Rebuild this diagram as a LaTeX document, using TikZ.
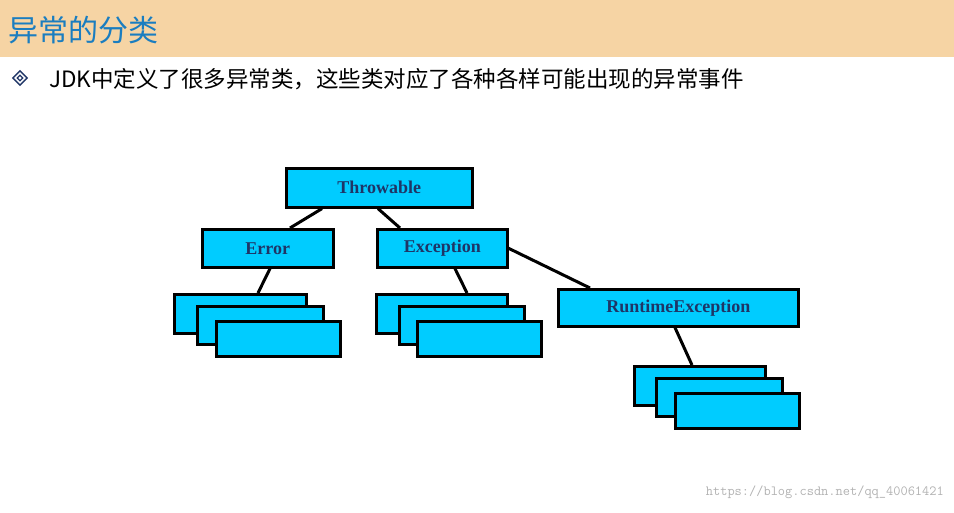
\documentclass[tikz,border=0pt]{standalone}
\usepackage{fontspec}
\setmainfont{Liberation Sans}
\newfontfamily\cjk{Noto Sans CJK SC}
\newfontfamily\serifb{Liberation Serif}
\usetikzlibrary{calc}
\definecolor{hdr}{HTML}{F6D4A4}
\definecolor{ttl}{HTML}{1A7DC0}
\definecolor{cy}{HTML}{00CCFF}
\definecolor{nv}{HTML}{1F3566}
\begin{document}
\begin{tikzpicture}[x=1pt,y=-1pt,
  bx/.style={draw=black,line width=2.6pt,fill=cy,inner sep=0pt,anchor=north west,font=\serifb\bfseries\fontsize{18}{20}\selectfont,text=nv},
  ln/.style={line width=3pt,black}]
\useasboundingbox (0,0) rectangle (954,512);
\fill[hdr] (0,0) rectangle (954,57);
\node[anchor=west,text=ttl,font=\cjk\fontsize{30}{34}\selectfont,inner sep=0pt] (title) at (8,30) {异常的分类};
\node[draw=nv,line width=1.5pt,rotate=45,minimum size=10pt,inner sep=0pt] (bul) at (20,78) {};
\node[draw=nv,line width=1.2pt,rotate=45,minimum size=4pt,inner sep=0pt] (bul2) at (20,78) {};
\node[anchor=west,font=\cjk\fontsize{22.5}{26}\selectfont,inner sep=0pt] (txt) at (49,79) {JDK中定义了很多异常类，这些类对应了各种各样可能出现的异常事件};
% nodes
\node[bx,minimum width=186,minimum height=39] (t) at (285,167) {Throwable};
\node[bx,minimum width=131,minimum height=38] (e) at (201,228) {Error};
\node[bx,minimum width=130,minimum height=38] (x) at (376,228) {Exception};
\node[bx,minimum width=240,minimum height=37] (r) at (557,288) {RuntimeException};
\node[bx,minimum width=132,minimum height=39] (e1) at (173,293) {};
\node[bx,minimum width=126,minimum height=38] (e2) at (196,305) {};
\node[bx,minimum width=124,minimum height=35] (e3) at (215,320) {};
\node[bx,minimum width=131,minimum height=39] (x1) at (375,293) {};
\node[bx,minimum width=125,minimum height=38] (x2) at (398,305) {};
\node[bx,minimum width=124,minimum height=35] (x3) at (416,320) {};
\node[bx,minimum width=131,minimum height=39] (r1) at (633,365) {};
\node[bx,minimum width=126,minimum height=38] (r2) at (655,377) {};
\node[bx,minimum width=124,minimum height=35] (r3) at (674,392) {};
% connectors
\draw[ln] ($(t.south west)+(37,0)$) -- ($(e.north west)+(89,0)$);
\draw[ln] ($(t.south west)+(93,0)$) -- ($(x.north west)+(24,0)$);
\draw[ln] ($(e.south west)+(69,0)$) -- ($(e1.north west)+(85,0)$);
\draw[ln] ($(x.south west)+(79,0)$) -- ($(x1.north west)+(92,0)$);
\draw[ln] (x.east) -- ($(r.north west)+(33,0)$);
\draw[ln] ($(r.south west)+(118,0)$) -- ($(r1.north west)+(59,0)$);
\node[anchor=east,text=black!30,font=\ttfamily\fontsize{14}{16}\selectfont,inner sep=0pt] (wm) at (944,492) {https://blog.csdn.net/qq\_40061421};
\end{tikzpicture}
\end{document}
